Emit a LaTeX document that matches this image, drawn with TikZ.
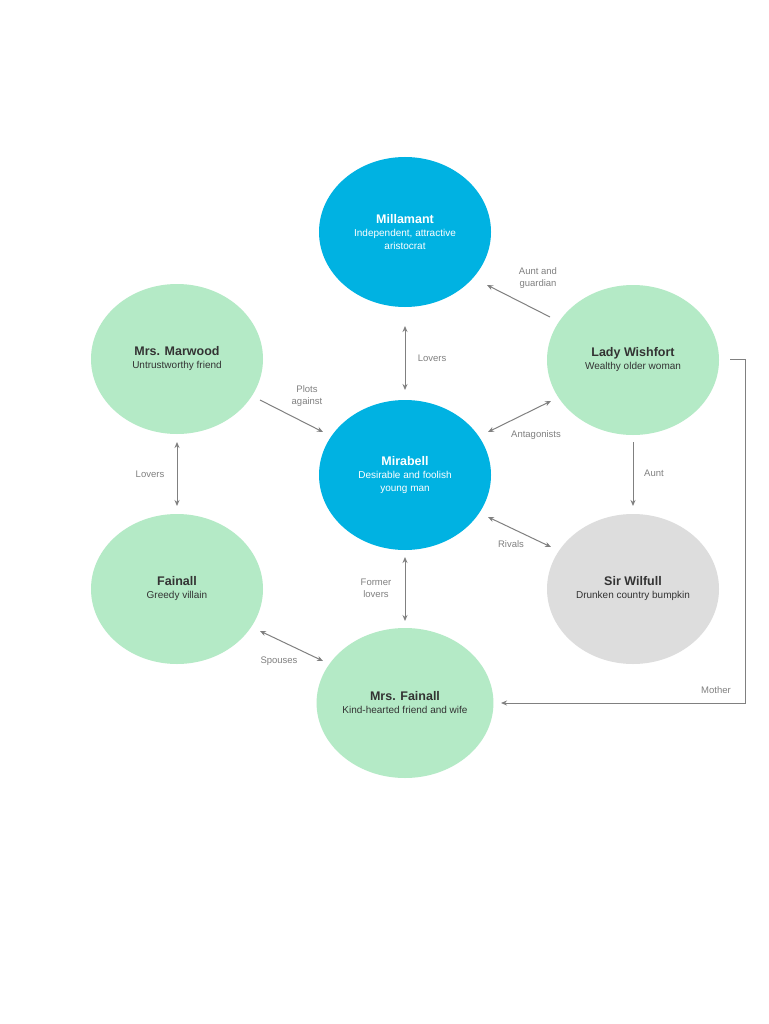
\documentclass[tikz,border=0pt]{standalone}
\usepackage{fontspec}
\setmainfont{Liberation Sans}
\usetikzlibrary{shapes.geometric,arrows.meta}
\definecolor{cblue}{HTML}{00B2E2}
\definecolor{cgreen}{HTML}{B4EAC6}
\definecolor{cgrey}{HTML}{DDDDDD}
\definecolor{ctext}{HTML}{333333}
\definecolor{cline}{HTML}{808080}
\begin{document}
\begin{tikzpicture}[x=1pt,y=-1pt,
  person/.style={ellipse,minimum width=172pt,minimum height=150pt,inner sep=0pt,align=center,font=\fontsize{10}{13}\selectfont,text=ctext},
  blueb/.style={person,fill=cblue,text=white},
  greenb/.style={person,fill=cgreen},
  greyb/.style={person,fill=cgrey},
  con/.style={draw=cline,line width=1pt,-{Stealth[length=6pt,width=5pt]}},
  bicon/.style={draw=cline,line width=1pt,{Stealth[length=6pt,width=5pt]}-{Stealth[length=6pt,width=5pt]}},
  lab/.style={text=cline,font=\fontsize{9.5}{12}\selectfont,align=center}]
\useasboundingbox (0,0) rectangle (768,1024);
\fill[white] (0,0) rectangle (768,1024);
\def\nm#1{{\fontsize{12.5}{17}\selectfont\bfseries #1}}
\node[blueb] (mil) at (405,232) {\nm{Millamant}\\Independent, attractive\\aristocrat};
\node[greenb] (mar) at (177,359) {\nm{Mrs. Marwood}\\Untrustworthy friend};
\node[greenb] (lw) at (633,360) {\nm{Lady Wishfort}\\Wealthy older woman};
\node[blueb] (mir) at (405,475) {\nm{Mirabell}\\Desirable and foolish\\young man};
\node[greenb] (fai) at (177,589) {\nm{Fainall}\\Greedy villain};
\node[greyb] (sw) at (633,589) {\nm{Sir Wilfull}\\Drunken country bumpkin};
\node[greenb] (mf) at (405,703) {\nm{Mrs. Fainall}\\Kind-hearted friend and wife};
\coordinate (a1) at (405,326); \coordinate (a2) at (405,390);
\coordinate (b1) at (550,317); \coordinate (b2) at (487,285);
\coordinate (c1) at (260,400); \coordinate (c2) at (323,432);
\coordinate (d1) at (488,432); \coordinate (d2) at (551,401);
\coordinate (e1) at (633,442); \coordinate (e2) at (633,506);
\coordinate (f1) at (488,517); \coordinate (f2) at (551,547);
\coordinate (g1) at (177,442); \coordinate (g2) at (177,506);
\coordinate (h1) at (405,557); \coordinate (h2) at (405,621);
\coordinate (i1) at (260,631); \coordinate (i2) at (323,661);
\coordinate (j1) at (730,359); \coordinate (j2) at (501,703);
\draw[bicon] (a1) -- (a2);
\draw[con] (b1) -- (b2);
\draw[con] (c1) -- (c2);
\draw[bicon] (d1) -- (d2);
\draw[con] (e1) -- (e2);
\draw[bicon] (f1) -- (f2);
\draw[bicon] (g1) -- (g2);
\draw[bicon] (h1) -- (h2);
\draw[bicon] (i1) -- (i2);
\draw[con] (j1) -- (745,359) -- (745,703) -- (j2);
\node[lab] at (432,358) {Lovers};
\node[lab] at (538,278) {Aunt and\\guardian};
\node[lab] at (307,396) {Plots\\against};
\node[lab] at (536,435) {Antagonists};
\node[lab] at (654,473) {Aunt};
\node[lab] at (511,544) {Rivals};
\node[lab] at (150,474) {Lovers};
\node[lab] at (376,588) {Former\\lovers};
\node[lab] at (279,661) {Spouses};
\node[lab] at (716,690) {Mother};
\end{tikzpicture}
\end{document}
